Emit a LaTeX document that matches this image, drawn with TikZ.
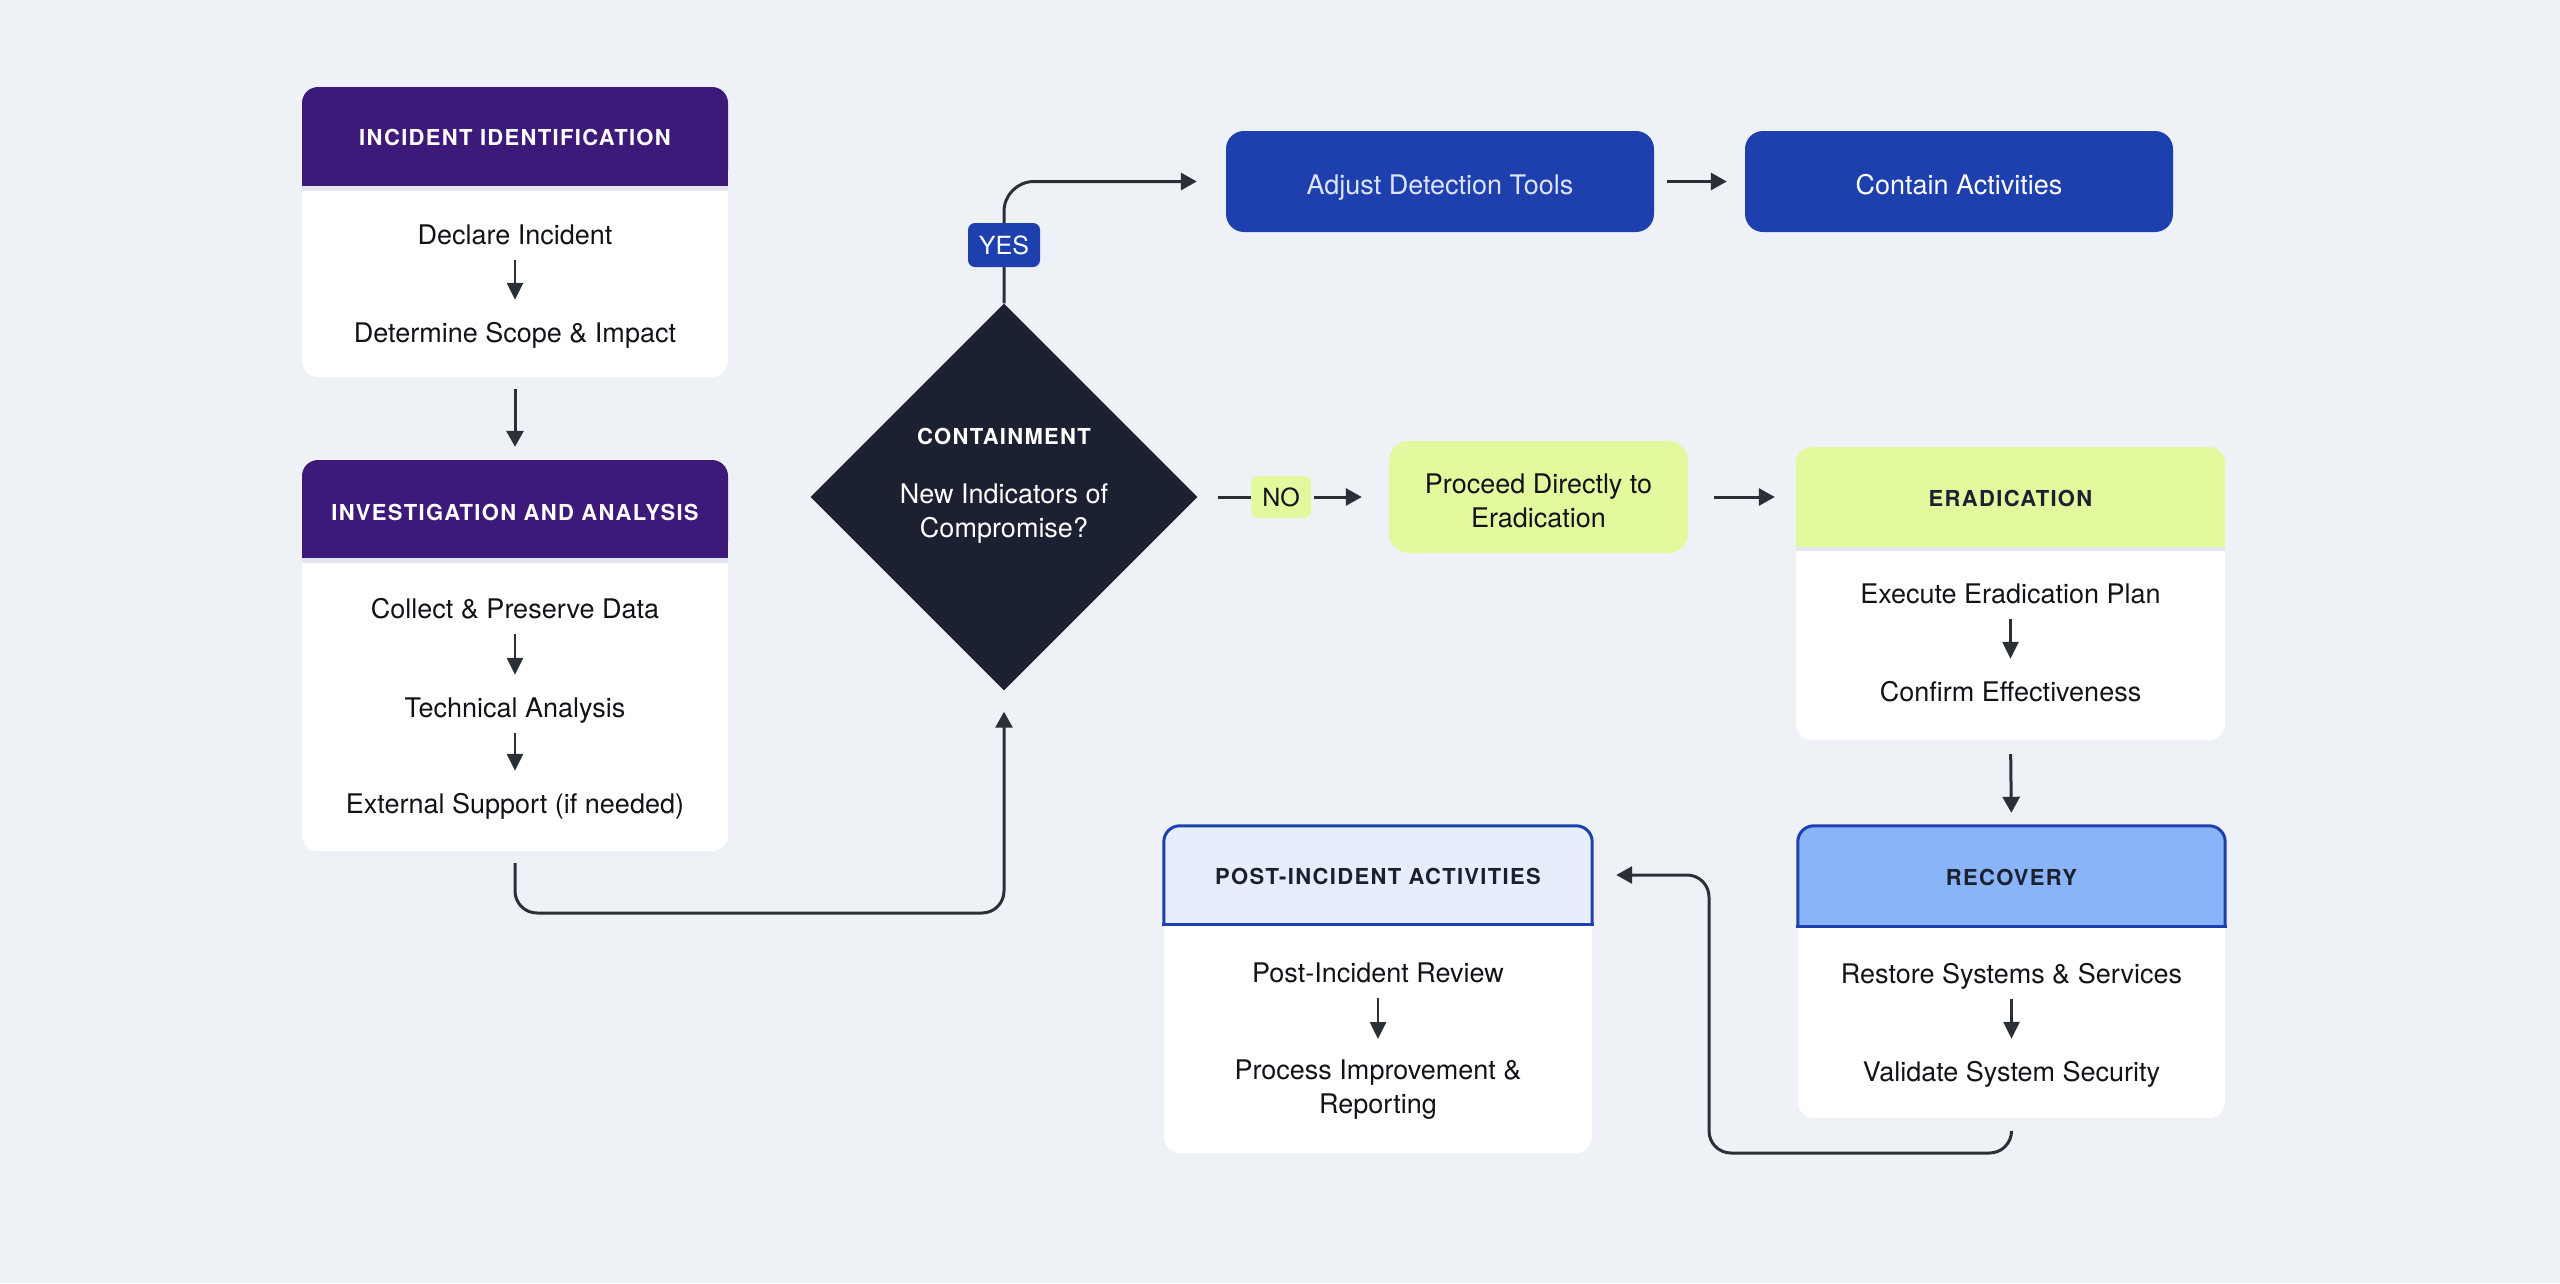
\documentclass[tikz,border=0pt]{standalone}
\usepackage{fontspec}
\setmainfont{TeX Gyre Heros}
\newfontfamily\hdrfont[LetterSpace=6]{TeX Gyre Heros}
\usetikzlibrary{arrows.meta,shapes.geometric,calc}
\definecolor{bg}{HTML}{EEF1F6}
\definecolor{purp}{HTML}{3D1A7A}
\definecolor{navy}{HTML}{1B2130}
\definecolor{blu}{HTML}{1E40AF}
\definecolor{lime}{HTML}{E3F99E}
\definecolor{recb}{HTML}{8AB4F8}
\definecolor{postb}{HTML}{E6EDFB}
\definecolor{ink}{HTML}{2B2F36}
\definecolor{txt}{HTML}{111318}
\definecolor{strip}{HTML}{E4E3F0}
\definecolor{adjtxt}{HTML}{DCE4FF}
\begin{document}
\begin{tikzpicture}[x=1pt,y=-1pt,
  card/.style={fill=white, rounded corners=16pt, minimum width=426pt, inner sep=0pt, draw=none},
  hdr/.style={rounded corners=16pt, minimum width=426pt, inner sep=0pt, draw=none},
  htxt/.style={font=\hdrfont\bfseries\fontsize{22}{26}\selectfont, inner sep=0pt},
  itxt/.style={font=\fontsize{27}{34}\selectfont, text=txt, inner sep=0pt, text height=20pt, text depth=6pt},
  mtxt/.style={font=\fontsize{27}{34}\selectfont, text=txt, inner sep=0pt, align=center},
  inarr/.style={draw=ink, line width=2.5pt, -{Triangle[width=16pt,length=17pt]}, shorten <=10pt, shorten >=22pt},
  arr/.style={draw=ink, line width=3pt, -{Triangle[width=17pt,length=16pt]}},
  pill/.style={rounded corners=18pt, minimum width=428pt, minimum height=101pt, inner sep=0pt, font=\fontsize{27}{34}\selectfont, text height=25pt, text depth=0pt},
  tag/.style={rounded corners=7pt, inner sep=0pt, font=\fontsize{25}{30}\selectfont},
]
\path[use as bounding box] (0,0) rectangle (2560,1283);
\fill[bg] (0,0) rectangle (2560,1283);

% ---------- Incident identification ----------
\node[card, minimum height=290pt] (inc) at (515,232) {};
\node[hdr, fill=purp, minimum height=99pt] (inch) at (515,136.5) {};
\fill[purp] (inch.west) rectangle (inch.south east);
\fill[strip] (inch.south west) rectangle ($(inch.south east)+(0,5)$);
\node[htxt, text=white] (inct) at (515,137) {INCIDENT IDENTIFICATION};
\node[itxt] (inc1) at (515,237) {Declare Incident};
\node[itxt] (inc2) at (515,335) {Determine Scope \& Impact};
\draw[inarr] (inc1) -- (inc2);

% ---------- Investigation and analysis ----------
\node[card, minimum height=391pt] (inv) at (515,655.5) {};
\node[hdr, fill=purp, minimum height=98pt] (invh) at (515,509) {};
\fill[purp] (invh.west) rectangle (invh.south east);
\fill[strip] (invh.south west) rectangle ($(invh.south east)+(0,5)$);
\node[htxt, text=white] (invt) at (515,512) {INVESTIGATION AND ANALYSIS};
\node[itxt] (inv1) at (515,611) {Collect \& Preserve Data};
\node[itxt] (inv2) at (515,710) {Technical Analysis};
\node[itxt] (inv3) at (515,806) {External Support (if needed)};
\draw[inarr] (inv1) -- (inv2);
\draw[inarr] (inv2) -- (inv3);

\draw[arr, shorten <=12pt, shorten >=13pt] (inc) -- (inv);

% ---------- Containment diamond ----------
\node[diamond, aspect=1, fill=navy, minimum width=387pt, minimum height=387pt, inner sep=0pt] (dia) at (1004,497) {};
\node[htxt, text=white] (diat) at (1004,436) {CONTAINMENT};
\node[mtxt, text=white] (diaq) at (1004,514) {New Indicators of\\Compromise?};

\coordinate (c1) at (760,913);
\draw[arr, rounded corners=22pt, shorten <=12pt, shorten >=21pt] (inv.south) |- (c1) -| (dia.south);

% ---------- YES branch ----------
\node[pill, fill=blu, text=adjtxt] (adj) at (1440,181.5) {Adjust Detection Tools};
\node[pill, fill=blu, text=white] (con) at (1959,181.5) {Contain Activities};
\draw[arr, rounded corners=30pt, shorten >=29pt] (dia.north) |- (adj.west);
\node[tag, fill=blu, text=white, minimum width=72pt, minimum height=44pt] (yes) at (1004,245) {YES};
\draw[arr, shorten <=13pt, shorten >=18pt] (adj) -- (con);

% ---------- NO branch ----------
\node[tag, fill=lime, text=txt, minimum width=60pt, minimum height=42pt] (no) at (1281,497) {NO};
\draw[draw=ink, line width=3pt, shorten <=20pt] (dia.east) -- (no.west);
\node[fill=lime, rounded corners=20pt, minimum width=299pt, minimum height=112pt, inner sep=0pt] (proc) at (1538.5,497) {};
\node[mtxt] (proct) at (1538.5,501) {Proceed Directly to\\Eradication};
\draw[arr, shorten <=3pt, shorten >=27pt] (no.east) -- (proc.west);

% ---------- Eradication ----------
\node[card, minimum width=429pt, minimum height=293pt] (era) at (2010.5,593.5) {};
\node[hdr, fill=lime, minimum width=429pt, minimum height=100pt] (erah) at (2010.5,497) {};
\fill[lime] (erah.west) rectangle (erah.south east);
\fill[strip] (erah.south west) rectangle ($(erah.south east)+(0,4)$);
\node[htxt, text=navy] (erat) at (2010.5,498) {ERADICATION};
\node[itxt] (era1) at (2010.5,596) {Execute Eradication Plan};
\node[itxt] (era2) at (2010.5,694) {Confirm Effectiveness};
\draw[inarr] (era1) -- (era2);
\draw[arr, shorten <=26pt, shorten >=21pt] (proc.east) -- (erah.west);

% ---------- Recovery ----------
\node[card, minimum width=427pt, minimum height=292pt] (rec) at (2011.5,972) {};
\node[hdr, minimum width=427pt, minimum height=100pt] (rech) at (2011.5,876) {};
\fill[recb, rounded corners=16pt] (rech.north west) rectangle (rech.south east);
\fill[recb] (rech.west) rectangle (rech.south east);
\draw[blu, line width=3pt, rounded corners=16pt, line cap=rect] (rech.south west) -- (rech.north west) -- (rech.north east) -- (rech.south east);
\draw[blu, line width=3pt, line cap=rect] (rech.south west) -- (rech.south east);
\node[htxt, text=navy] (rect) at (2011.5,877) {RECOVERY};
\node[itxt] (rec1) at (2011.5,976) {Restore Systems \& Services};
\node[itxt] (rec2) at (2011.5,1074) {Validate System Security};
\draw[inarr] (rec1) -- (rec2);
\draw[arr, shorten <=14pt, shorten >=13pt] (era.south) -- (rech.north);

% ---------- Post-incident ----------
\node[card, minimum width=428pt, minimum height=327pt] (post) at (1378,989.5) {};
\node[hdr, minimum width=428pt, minimum height=98pt] (posth) at (1378,875) {};
\fill[postb, rounded corners=16pt] (posth.north west) rectangle (posth.south east);
\fill[postb] (posth.west) rectangle (posth.south east);
\draw[blu, line width=3pt, rounded corners=16pt, line cap=rect] (posth.south west) -- (posth.north west) -- (posth.north east) -- (posth.south east);
\draw[blu, line width=3pt, line cap=rect] (posth.south west) -- (posth.south east);
\node[htxt, text=navy] (postt) at (1378,876) {POST-INCIDENT ACTIVITIES};
\node[itxt] (post1) at (1378,975) {Post-Incident Review};
\node[mtxt] (post2) at (1378,1090) {Process Improvement \&\\Reporting};
\draw[inarr, shorten >=21pt] (post1) -- (post2);

\coordinate (c2) at (1709,1153);
\draw[arr, rounded corners=22pt, shorten <=13pt, shorten >=24pt] (rec.south) |- (c2) |- (posth.east);
\end{tikzpicture}
\end{document}
